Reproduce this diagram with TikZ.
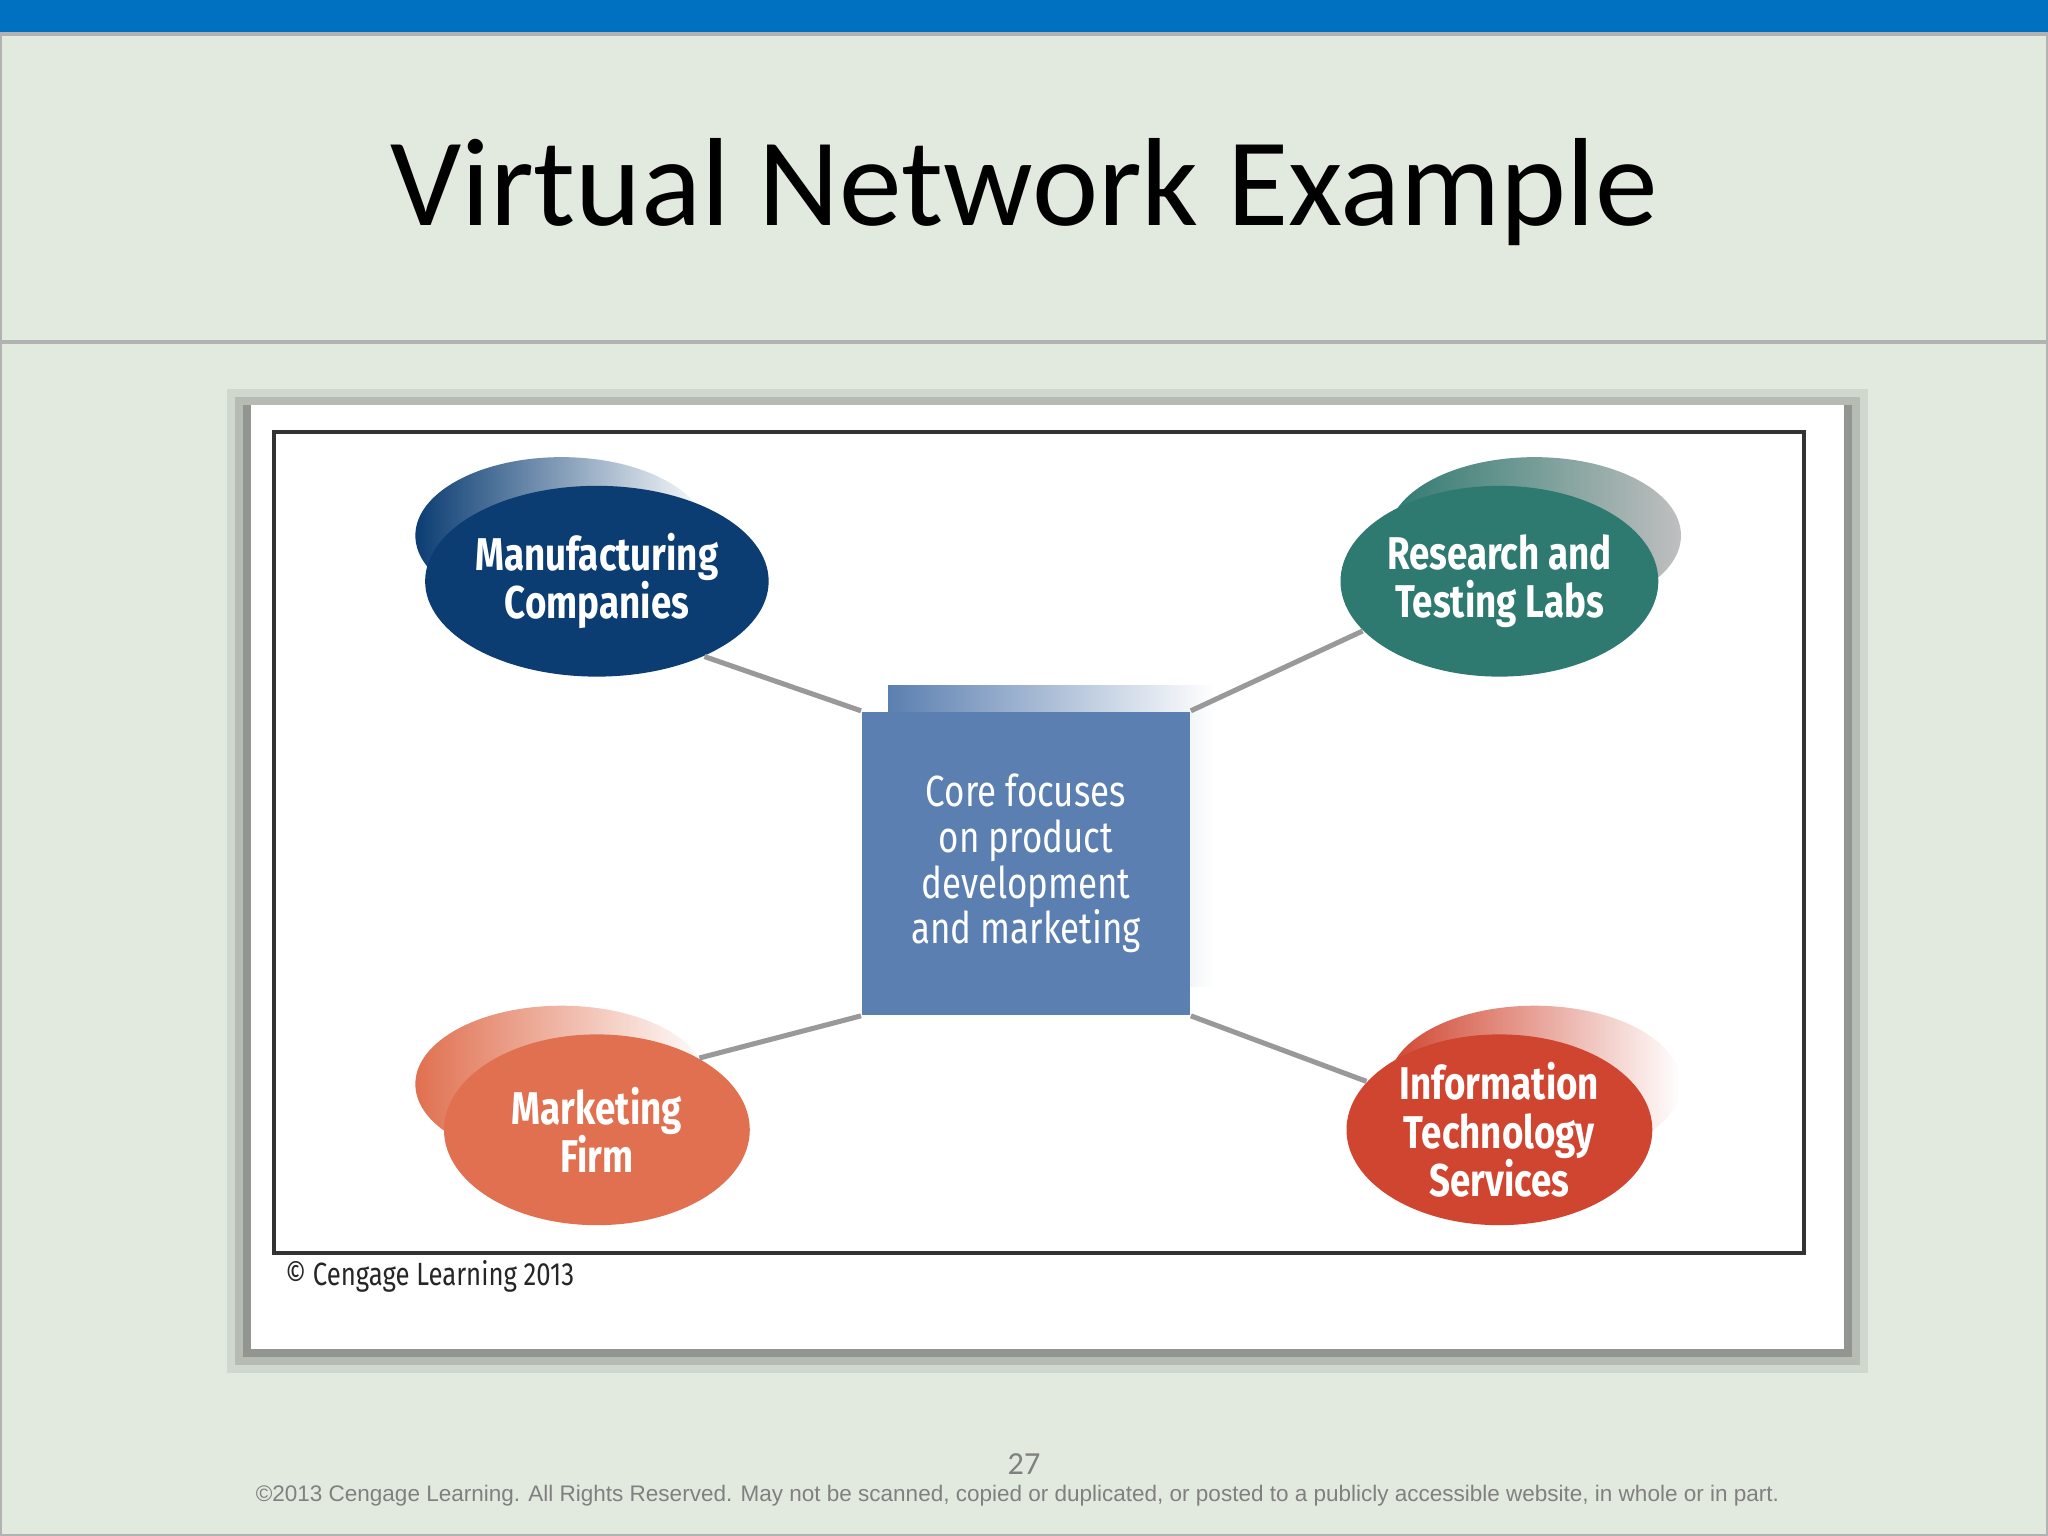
\documentclass[tikz,border=0pt]{standalone}
\usepackage{fontspec}
\usetikzlibrary{shapes.geometric}
\setmainfont{Carlito}
\newfontfamily\cond[FakeStretch=0.8]{Fira Sans}
\newfontfamily\foot{Liberation Sans}
\begin{document}
\begin{tikzpicture}[x=0.01cm,y=-0.01cm,
  ell/.style={ellipse,minimum width=2.34cm,minimum height=1.46cm,inner sep=0pt},
  lab/.style={text=white,font=\cond\bfseries\fontsize{10}{10.5}\selectfont,align=center},
  conn/.style={draw=gray!80,line width=1.1pt}]
\useasboundingbox (0,0) rectangle (1568,1176);
\fill[fill={rgb,255:red,226;green,234;blue,224}] (0,0) rectangle (1568,1176);
\fill[fill={rgb,255:red,0;green,112;blue,192}] (0,0) rectangle (1568,26);
\draw[gray!60,line width=0.8pt] (0,262) -- (1568,262);
\draw[gray!60,line width=0.8pt] (0,26) rectangle (1568,1176);
\node (title) at (784,147) {\fontsize{27.3}{32}\selectfont Virtual Network Example};
% photo frame
\foreach \d/\o in {18/0.08,12/0.12,6/0.2}{
  \fill[black,opacity=\o] (192-\d,310-\d+6) rectangle (1412+\d,1033+\d);}
\fill[white] (192,310) rectangle (1412,1033);
\draw[black!80,line width=0.9pt] (210,331) rectangle (1381,959);
% ellipses (back)
\shade[left color={rgb,255:red,11;green,61;blue,115},right color=white] (430,410) ellipse (112 and 60);
\shade[left color={rgb,255:red,46;green,122;blue,112},right color=gray!50] (1175,410) ellipse (112 and 60);
\shade[left color={rgb,255:red,224;green,112;blue,80},right color=white] (430,830) ellipse (112 and 60);
\shade[left color={rgb,255:red,208;green,69;blue,48},right color=white] (1175,830) ellipse (112 and 60);
% core box back
\shade[left color={rgb,255:red,91;green,127;blue,176},right color=white] (680,525) rectangle (930,755);
\node[fill={rgb,255:red,91;green,127;blue,176},minimum width=2.51cm,minimum height=2.32cm,inner sep=0pt,
  text=white,font=\cond\fontsize{9.5}{10}\selectfont,align=center] (core) at (785.5,661)
  {Core focuses\\on product\\development\\and marketing};
\node[ell,fill={rgb,255:red,11;green,61;blue,115},lab] (man) at (457,445) {Manufacturing\\Companies};
\node[ell,fill={rgb,255:red,46;green,122;blue,112},lab] (res) at (1148,445) {Research and\\Testing Labs};
\node[ell,fill={rgb,255:red,224;green,112;blue,80},lab] (mkt) at (457,865) {Marketing\\Firm};
\node[ell,fill={rgb,255:red,208;green,69;blue,48},lab] (it) at (1148,865) {Information\\Technology\\Services};
\draw[conn] (man.-35) -- (core.north west);
\draw[conn] (res.200) -- (core.north east);
\draw[conn] (mkt.35) -- (core.south west);
\draw[conn] (it.160) -- (core.south east);
\node[anchor=west,font=\cond\fontsize{7}{8}\selectfont,text=black!85] (cr) at (206,977) {\textcopyright\ Cengage Learning 2013};
\node[text=gray,font=\fontsize{7}{8}\selectfont] (pg) at (784,1121) {27};
\node[text=gray,font=\foot\fontsize{4.9}{6}\selectfont] (ft) at (779,1145) {\textcopyright2013 Cengage Learning. All Rights Reserved. May not be scanned, copied or duplicated, or posted to a publicly accessible website, in whole or in part.};
\end{tikzpicture}
\end{document}
